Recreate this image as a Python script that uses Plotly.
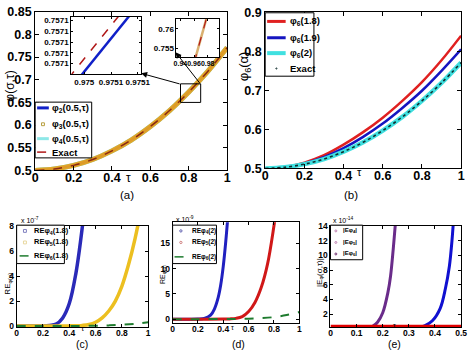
import plotly.graph_objects as go

W, H = 474, 359

# ---------------- data ----------------
# (a)
tau_a = [0.0, 0.1, 0.2, 0.3, 0.4, 0.5, 0.6, 0.7, 0.8, 0.9, 1.0]
phi2_a = [0.5, 0.503, 0.511, 0.524, 0.543, 0.567, 0.597, 0.632, 0.673, 0.719, 0.771]
phi3_a = [0.5, 0.503, 0.511, 0.524, 0.543, 0.567, 0.597, 0.632, 0.673, 0.719, 0.771]
phi4_a = [0.5, 0.503, 0.511, 0.524, 0.543, 0.567, 0.597, 0.632, 0.673, 0.719, 0.771]
exact_a = [0.5, 0.503, 0.511, 0.524, 0.543, 0.567, 0.597, 0.632, 0.673, 0.719, 0.771]

# insets of (a)
ins1_tau = [0.97497, 0.97510]
ins1_phi2 = [0.757034, 0.757114]
ins1_exact = [0.757046, 0.757126]
ins1_xticks = [0.975, 0.97505, 0.9751]
ins1_xlabels = ["0.975", "0.9751", "0.9751"]
ins1_yticks = [0.75706, 0.75707, 0.75708, 0.75709, 0.75710]
ins1_ylabels = ["0.7571", "0.7571", "0.7571", "0.7571", "0.7571"]

ins2_tau = [0.96, 0.98]
ins2_exact = [0.7511, 0.7639]
ins2_xticks = [0.94, 0.96, 0.98]
ins2_xlabels = ["0.94", "0.96", "0.98"]
ins2_yticks = [0.755, 0.76]
ins2_ylabels = ["0.755", "0.76"]

# (b)
tau_b = [0.0, 0.1, 0.2, 0.3, 0.4, 0.5, 0.6, 0.7, 0.8, 0.9, 1.0]
phi6_18 = [0.5, 0.504, 0.515, 0.534, 0.561, 0.593, 0.630, 0.673, 0.721, 0.777, 0.840]
phi6_19 = [0.5, 0.503, 0.513, 0.529, 0.552, 0.581, 0.615, 0.655, 0.699, 0.750, 0.805]
phi6_2 = [0.5, 0.503, 0.511, 0.524, 0.543, 0.567, 0.597, 0.632, 0.673, 0.719, 0.771]
exact_b = [0.5, 0.503, 0.511, 0.524, 0.543, 0.567, 0.597, 0.632, 0.673, 0.719, 0.771]

# (c)  (x 1e-7)
c_tau4 = [0.0, 0.1, 0.2, 0.25, 0.3, 0.35, 0.4, 0.45, 0.5, 0.52]
c_re4 = [0.0, 0.0, 0.01, 0.05, 0.15, 0.65, 1.8, 4.2, 8.0, 10.0]
c_tau5 = [0.0, 0.2, 0.4, 0.5, 0.55, 0.6, 0.65, 0.7, 0.75, 0.8, 0.85, 0.9, 0.95]
c_re5 = [0.0, 0.0, 0.01, 0.05, 0.12, 0.3, 0.65, 1.2, 2.0, 3.2, 4.9, 7.0, 9.6]
c_tau6 = [0.0, 0.2, 0.4, 0.6, 0.7, 0.8, 0.9, 1.0]
c_re6 = [0.0, 0.0, 0.005, 0.02, 0.05, 0.1, 0.18, 0.3]

# (d)  (x 1e-9)
d_tau4 = [0.0, 0.1, 0.2, 0.25, 0.3, 0.33, 0.36, 0.38, 0.4, 0.42, 0.44]
d_re4 = [0.0, 0.0, 0.02, 0.15, 0.8, 2.0, 4.3, 6.8, 10.5, 15.5, 21.5]
d_tau5 = [0.0, 0.2, 0.4, 0.45, 0.5, 0.55, 0.6, 0.65, 0.7, 0.75, 0.8, 0.82]
d_re5 = [0.0, 0.0, 0.01, 0.05, 0.15, 0.5, 1.5, 3.3, 6.3, 11.0, 18.5, 22.0]
d_tau6 = [0.0, 0.2, 0.4, 0.5, 0.6, 0.7, 0.8, 0.9, 1.0]
d_re6 = [0.0, 0.0, 0.01, 0.03, 0.08, 0.2, 0.4, 0.8, 1.4]

# (e)  (x 1e-14)
e_tau4 = [0.0, 0.1, 0.14, 0.16, 0.18, 0.2, 0.22, 0.23, 0.24, 0.25, 0.255]
e_err4 = [0.0, 0.0, 0.05, 0.3, 0.9, 2.2, 5.0, 7.2, 10.8, 15.0, 17.0]
e_tau5 = [0.0, 0.3, 0.33, 0.36, 0.39, 0.42, 0.44, 0.455, 0.465, 0.475]
e_err5 = [0.0, 0.0, 0.1, 0.4, 1.1, 2.8, 5.5, 8.5, 12.0, 17.0]
e_tau6 = [0.0, 0.1, 0.2, 0.3, 0.4, 0.5]
e_err6 = [0.35, 0.35, 0.35, 0.35, 0.35, 0.35]

# ---------------- helpers ----------------
FONT = "Liberation Sans"


def X(px):
    return px / W


def Y(py):
    return 1 - py / H


def dom_x(x0, x1):
    return [X(x0), X(x1)]


def dom_y(yt, yb):
    return [Y(yb), Y(yt)]


def axis(domain, rng, size, ticklen=4, **kw):
    d = dict(domain=domain, range=rng, showline=True, linecolor="black", linewidth=1,
             mirror="ticks", ticks="inside", ticklen=ticklen, tickcolor="black",
             showgrid=False, zeroline=False, tickangle=0,
             tickfont=dict(family=FONT, size=size, color="black", weight="bold"))
    d.update(kw)
    return d


fig = go.Figure()


def line(x, y, ax, color, width, dash="solid", opacity=1.0):
    fig.add_trace(go.Scatter(x=x, y=y, mode="lines", xaxis="x" + ax, yaxis="y" + ax,
                             line=dict(color=color, width=width, dash=dash, shape="spline"),
                             opacity=opacity, showlegend=False, hoverinfo="skip"))

# (a)
line(tau_a, phi4_a, "", "#6fe3e3", 5)
line(tau_a, phi2_a, "", "#1020c8", 2.5)
line(tau_a, phi3_a, "", "#e8a320", 5, opacity=0.95)
line(tau_a, exact_a, "", "#8b2a10", 1.5, dash="dash")
# inset 1
line(ins1_tau, ins1_phi2, "6", "#1020c8", 2.5)
line(ins1_tau, ins1_exact, "6", "#b01818", 1.5, dash="dash")
# inset 2
line(ins2_tau, ins2_exact, "7", "#d9b070", 2.5)
line(ins2_tau, ins2_exact, "7", "#b01818", 1.2, dash="dash")
# (b)
line(tau_b, phi6_18, "2", "#e02020", 2.5)
line(tau_b, phi6_19, "2", "#1515c0", 2.5)
line(tau_b, phi6_2, "2", "#40e0e0", 4.5)
line(tau_b, exact_b, "2", "#103030", 1.6, dash="dot")
# (c)
line(c_tau4, c_re4, "3", "#2a2ab8", 3.5)
line(c_tau5, c_re5, "3", "#ecbf20", 3.5)
line(c_tau6, c_re6, "3", "#1e7b2e", 2, dash="dash")
# (d)
line(d_tau4, d_re4, "4", "#2020c0", 3)
line(d_tau5, d_re5, "4", "#d01818", 3)
line(d_tau6, d_re6, "4", "#1e7b2e", 2, dash="dash")
# (e)
line(e_tau4, e_err4, "5", "#6a2c8a", 3)
line(e_tau5, e_err5, "5", "#1010d0", 3)
line(e_tau6, e_err6, "5", "#e00000", 3)

ax_a = dict(x=(33, 230), y=(5, 170))
ax_b = dict(x=(269, 470), y=(5.5, 168))
ax_c = dict(x=(14, 149), y=(228, 333))
ax_d = dict(x=(174, 304), y=(224, 329))
ax_e = dict(x=(336, 470), y=(228, 333))
ax_i1 = dict(x=(70, 142), y=(10, 70))
ax_i2 = dict(x=(178, 222), y=(12, 52))

layout = dict(
    width=W, height=H, margin=dict(l=0, r=0, t=0, b=0),
    paper_bgcolor="white", plot_bgcolor="white", showlegend=False,
    xaxis=axis(dom_x(*ax_a["x"]), [0, 1], 12.5, anchor="y", ticklabelstandoff=-4,
               tickvals=[0, 0.2, 0.4, 0.6, 0.8, 1], ticktext=["0", "0.2", "0.4", "0.6", "0.8", "1"]),
    yaxis=axis(dom_y(*ax_a["y"]), [0.5, 0.85], 12.5, anchor="x",
               tickvals=[0.5, 0.55, 0.6, 0.65, 0.7, 0.75, 0.8, 0.85]),
    xaxis2=axis(dom_x(*ax_b["x"]), [0, 1], 12.5, anchor="y2", ticklabelstandoff=-4,
                tickvals=[0, 0.2, 0.4, 0.6, 0.8, 1], ticktext=["0", "0.2", "0.4", "0.6", "0.8", "1"]),
    yaxis2=axis(dom_y(*ax_b["y"]), [0.5, 0.9], 12.5, anchor="x2",
                tickvals=[0.5, 0.6, 0.7, 0.8, 0.9]),
    xaxis3=axis(dom_x(*ax_c["x"]), [0, 1], 8.5, ticklen=3, anchor="y3", ticklabelstandoff=-2,
                tickvals=[0, 0.2, 0.4, 0.6, 0.8, 1], ticktext=["0", "0.2", "0.4", "0.6", "0.8", "1"]),
    yaxis3=axis(dom_y(*ax_c["y"]), [-0.08, 8], 8.5, ticklen=3, anchor="x3",
                tickvals=[0, 2, 4, 6, 8]),
    xaxis4=axis(dom_x(*ax_d["x"]), [0, 1], 8.5, ticklen=3, anchor="y4", ticklabelstandoff=-2,
                tickvals=[0, 0.2, 0.4, 0.6, 0.8, 1], ticktext=["0", "0.2", "0.4", "0.6", "0.8", "1"]),
    yaxis4=axis(dom_y(*ax_d["y"]), [-0.8, 19.2], 8.5, ticklen=3, anchor="x4",
                tickvals=[0, 5, 10, 15]),
    xaxis5=axis(dom_x(*ax_e["x"]), [0, 0.5], 8.5, ticklen=3, anchor="y5", ticklabelstandoff=-2,
                tickvals=[0, 0.1, 0.2, 0.3, 0.4, 0.5]),
    yaxis5=axis(dom_y(*ax_e["y"]), [0.25, 14], 8.5, ticklen=3, anchor="x5",
                tickvals=[2, 4, 6, 8, 10, 12, 14]),
    xaxis6=axis(dom_x(*ax_i1["x"]), [0.9749756, 0.9751068], 8, ticklen=2, anchor="y6",
                tickvals=ins1_xticks, ticktext=ins1_xlabels),
    yaxis6=axis(dom_y(*ax_i1["y"]), [0.757050, 0.7571036], 8, ticklen=2, anchor="x6",
                tickvals=ins1_yticks, ticktext=ins1_ylabels),
    xaxis7=axis(dom_x(*ax_i2["x"]), [0.9343, 0.9971], 7, ticklen=2, anchor="y7",
                tickvals=ins2_xticks, ticktext=ins2_xlabels),
    yaxis7=axis(dom_y(*ax_i2["y"]), [0.75267, 0.76267], 8, ticklen=2, anchor="x7",
                tickvals=ins2_yticks, ticktext=ins2_ylabels),
)

shapes = []
annotations = []


def text(x, y, s, size, bold=False, angle=0, xanchor="center", yanchor="middle"):
    annotations.append(dict(xref="paper", yref="paper", x=X(x), y=Y(y), text=s,
                            showarrow=False, textangle=angle, xanchor=xanchor, yanchor=yanchor,
                            font=dict(family=FONT, size=size, color="black",
                                      weight="bold" if bold else "normal")))


# zoom box in (a) and arrows
shapes.append(dict(type="rect", xref="x", yref="y", x0=0.757, x1=0.862, y0=0.65, y1=0.691,
                   line=dict(color="black", width=1)))
for head, tail in [((141.7, 69), (181.7, 80)), ((177, 47), (202.3, 79.3))]:
    annotations.append(dict(xref="paper", yref="paper", axref="pixel", ayref="pixel",
                            x=X(head[0]), y=Y(head[1]),
                            ax=tail[0] - head[0], ay=tail[1] - head[1],
                            text="", showarrow=True, arrowhead=2, arrowsize=1.2,
                            arrowwidth=1, arrowcolor="black"))


def legend(box, entries, size, sx0, sx1, tx, bold=True):
    shapes.append(dict(type="rect", xref="paper", yref="paper",
                       x0=X(box[0]), x1=X(box[1]), y0=Y(box[3]), y1=Y(box[2]),
                       line=dict(color="black", width=1), fillcolor="white", layer="above"))
    for (yy, label, kind, color, dash, width) in entries:
        if kind == "line":
            shapes.append(dict(type="line", xref="paper", yref="paper", x0=X(sx0), x1=X(sx1),
                               y0=Y(yy), y1=Y(yy), line=dict(color=color, width=width, dash=dash)))
        else:
            cx = (sx0 + sx1) / 2
            r = width
            shapes.append(dict(type=kind, xref="paper", yref="paper", x0=X(cx - r), x1=X(cx + r),
                               y0=Y(yy + r), y1=Y(yy - r), line=dict(color=color, width=1)))
        text(tx, yy, label, size, bold=bold, xanchor="left")


legend((33, 91, 99, 157), [
    (105, "φ<sub>2</sub>(0.5,τ)", "line", "#1020c8", "solid", 3),
    (122, "φ<sub>3</sub>(0.5,τ)", "rect", "#b8a040", "solid", 1.5),
    (137, "φ<sub>4</sub>(0.5,τ)", "line", "#8ee8e8", "solid", 3),
    (151, "Exact", "line", "#b01818", "dash", 1.5),
], 9.5, 35, 47, 48)

legend((269, 319, 6, 72), [
    (15, "φ<sub>6</sub>(1.8)", "line", "#e02020", "solid", 3),
    (32, "φ<sub>6</sub>(1.9)", "line", "#1515c0", "solid", 3),
    (48, "φ<sub>6</sub>(2)", "line", "#40e0e0", "solid", 4),
    (64, "Exact", "circle", "#103030", "solid", 0.6),
], 9.5, 271, 290, 292)

legend((14, 63, 227, 267), [
    (233, "REφ<sub>4</sub>(1.8)", "rect", "#8080c0", "solid", 1.5),
    (245, "REφ<sub>5</sub>(1.8)", "rect", "#e8d8a0", "solid", 1.5),
    (259, "REφ<sub>6</sub>(1.8)", "line", "#1e7b2e", "dash", 1.5),
], 7.5, 17, 28, 30)

legend((174, 219, 227, 267), [
    (233, "REφ<sub>4</sub>(2)", "circle", "#6060b0", "solid", 1.2),
    (245, "REφ<sub>5</sub>(2)", "circle", "#d08080", "solid", 1.2),
    (260, "REφ<sub>6</sub>(2)", "line", "#1e7b2e", "dash", 1.5),
], 6.5, 176, 189, 192)

legend((336, 369, 227, 263), [
    (233, "|Eφ<sub>4</sub>|", "circle", "#c080b0", "solid", 1.0),
    (245, "|Eφ<sub>5</sub>|", "circle", "#c080b0", "solid", 1.0),
    (257, "|Eφ<sub>6</sub>|", "circle", "#703070", "solid", 1.0),
], 6, 338, 345, 347)

# axis titles
text(7, 82, "φ(σ,τ)", 12, angle=-90)
text(129, 178, "τ", 12)
text(248, 62, "φ<sub>6</sub>(α)", 13, angle=-90)
text(366, 172, "τ", 11)
text(5, 288, "RE<sub>φ(α)</sub>", 8, angle=-90)
text(82, 335, "τ", 8)
text(164, 278, "RE<sub>φ(α)</sub>", 7, angle=-90)
text(235, 334, "τ", 7)
text(325, 276, "|E<sub>φ</sub>(σ,τ)|", 8, angle=-90)
text(402, 331, "τ", 7)

# exponents
text(16, 222, "x 10<sup>-7</sup>", 7, xanchor="left")
text(175, 221, "x 10<sup>-9</sup>", 7, xanchor="left")
text(337, 222, "x 10<sup>-14</sup>", 7, xanchor="left")

# panel labels
text(127, 196, "(a)", 11.5)
text(357, 196, "(b)", 11.5)
text(81, 351, "(c)", 10.5)
text(242, 351, "(d)", 10.5)
text(402, 351, "(e)", 10.5)

layout["shapes"] = shapes
layout["annotations"] = annotations
fig.update_layout(**layout)
fig.write_html("out.html", config={"displayModeBar": False},
               post_script="document.body.style.margin='0px';")
